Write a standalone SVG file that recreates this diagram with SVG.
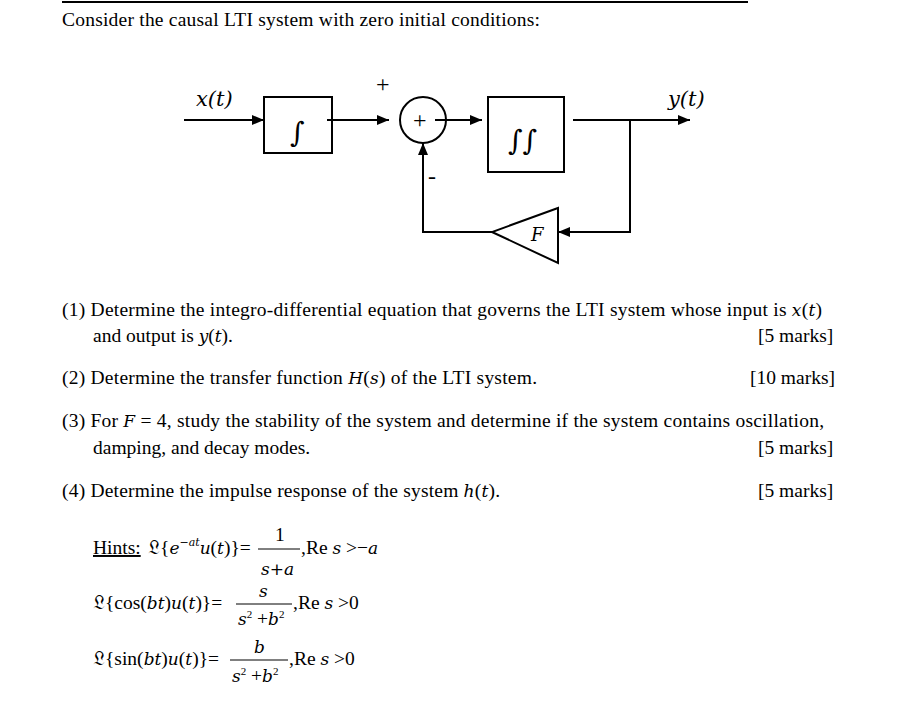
<svg xmlns="http://www.w3.org/2000/svg" width="907" height="706" viewBox="0 0 907 706">
<defs>
<style>
text{font-family:"Liberation Serif","Times New Roman",serif;font-size:19.5px;fill:#000}
.i{font-style:italic;font-family:"DejaVu Serif",serif;font-size:17px}
.ln{stroke:#000;stroke-width:2;fill:none}
</style>
<marker id="ah" markerWidth="12" markerHeight="10" refX="12" refY="5" orient="auto" markerUnits="userSpaceOnUse"><path d="M0,0L12,5L0,10z" fill="#000"/></marker>
</defs>
<rect width="907" height="706" fill="#fff"/>
<line x1="62" y1="2" x2="748" y2="2" stroke="#000" stroke-width="2"/>
<text x="62" y="26" textLength="478">Consider the causal LTI system with zero initial conditions:</text>
<g id="connectors">
<line class="ln" x1="184" y1="120" x2="264" y2="120" marker-end="url(#ah)"/>
<line class="ln" x1="327" y1="120" x2="389" y2="120" marker-end="url(#ah)"/>
<line class="ln" x1="435" y1="120" x2="482" y2="120" marker-end="url(#ah)"/>
<line class="ln" x1="573" y1="120" x2="690" y2="120" marker-end="url(#ah)"/>
<polyline class="ln" points="630,120 630,232 558,232" marker-end="url(#ah)"/>
<polyline class="ln" points="492,232 423,232 423,143" marker-end="url(#ah)"/>
</g>
<g id="integrator"><rect x="264" y="97" width="68" height="56" class="ln"/><text x="290" y="142" class="i" style="font-size:28px">∫</text></g>
<g id="sum"><circle cx="423" cy="120" r="23" class="ln"/><text x="413" y="128" style="font-size:24px">+</text>
<text x="376" y="92" style="font-size:24px">+</text><text x="428" y="184" style="font-size:24px">-</text></g>
<g id="double"><rect x="488" y="97" width="76" height="75" class="ln"/><text x="508" y="150" class="i" style="font-size:28px">∫∫</text></g>
<g id="gain"><polygon points="558,208 558,263 492,232" class="ln"/><text x="531" y="241" class="i" style="font-size:18px">F</text></g>
<text x="196" y="106" class="i" style="font-size:21px">x(t)</text>
<text x="668" y="106" class="i" style="font-size:21px">y(t)</text>
<text x="62" y="316" textLength="760">(1) Determine the integro-differential equation that governs the LTI system whose input is <tspan class="i">x</tspan>(<tspan class="i">t</tspan>)</text>
<text x="93" y="342">and output is <tspan class="i">y</tspan>(<tspan class="i">t</tspan>).</text>
<text x="758" y="342">[5 marks]</text>
<text x="62" y="384" textLength="475">(2) Determine the transfer function <tspan class="i">H</tspan>(<tspan class="i">s</tspan>) of the LTI system.</text>
<text x="750" y="384">[10 marks]</text>
<text x="62" y="427" textLength="762">(3) For <tspan class="i">F</tspan> = 4, study the stability of the system and determine if the system contains oscillation,</text>
<text x="93" y="454">damping, and decay modes.</text>
<text x="758" y="454">[5 marks]</text>
<text x="62" y="497" textLength="438">(4) Determine the impulse response of the system <tspan class="i">h</tspan>(<tspan class="i">t</tspan>).</text>
<text x="758" y="497">[5 marks]</text>
<text x="93" y="554" text-decoration="underline">Hints:</text>
<text x="148" y="554">𝔏{<tspan class="i">e</tspan><tspan class="i" dy="-8" style="font-size:11px">−at</tspan><tspan class="i" dy="8">u</tspan>(<tspan class="i">t</tspan>)}=</text>
<line x1="258" y1="549" x2="300" y2="549" stroke="#000" stroke-width="1"/>
<text x="275" y="541">1</text><text x="261" y="575" class="i">s+a</text>
<text x="301" y="554">,Re <tspan class="i">s</tspan> &gt;−<tspan class="i">a</tspan></text>
<text x="93" y="609">𝔏{cos(<tspan class="i">bt</tspan>)<tspan class="i">u</tspan>(<tspan class="i">t</tspan>)}=</text>
<line x1="236" y1="604" x2="292" y2="604" stroke="#000" stroke-width="1"/>
<text x="259" y="597" class="i">s</text><text x="238" y="625"><tspan class="i">s</tspan><tspan dy="-7" style="font-size:11px">2</tspan><tspan dy="7"> +</tspan><tspan class="i">b</tspan><tspan dy="-7" style="font-size:11px">2</tspan></text>
<text x="293" y="609">,Re <tspan class="i">s</tspan> &gt;0</text>
<text x="93" y="665">𝔏{sin(<tspan class="i">bt</tspan>)<tspan class="i">u</tspan>(<tspan class="i">t</tspan>)}=</text>
<line x1="230" y1="660" x2="288" y2="660" stroke="#000" stroke-width="1"/>
<text x="254" y="653" class="i">b</text><text x="232" y="682"><tspan class="i">s</tspan><tspan dy="-7" style="font-size:11px">2</tspan><tspan dy="7"> +</tspan><tspan class="i">b</tspan><tspan dy="-7" style="font-size:11px">2</tspan></text>
<text x="289" y="665">,Re <tspan class="i">s</tspan> &gt;0</text>
</svg>
